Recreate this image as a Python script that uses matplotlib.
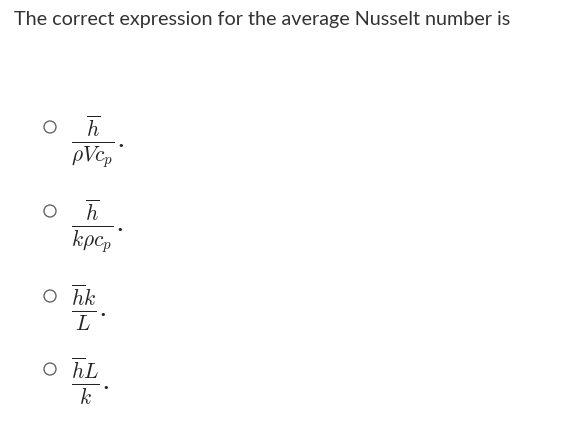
import matplotlib.pyplot as plt
from matplotlib.patches import Circle

W, H = 586, 446
QUESTION = "The correct expression for the average Nusselt number is"
OPTIONS = [
    r"$\frac{\overline{h}}{\rho V c_p}.$",
    r"$\frac{\overline{h}}{k \rho c_p}.$",
    r"$\frac{\overline{h} k}{L}.$",
    r"$\frac{\overline{h} L}{k}.$",
]
CIRCLE_Y = [127, 211, 296, 369]
FRAC_Y = [142, 226, 308, 381]
FRAC_X = [71, 71, 71, 71]

plt.rcParams["mathtext.fontset"] = "cm"
fig = plt.figure(figsize=(W / 100, H / 100), dpi=100)
ax = fig.add_axes([0, 0, 1, 1])
ax.set_xlim(0, W)
ax.set_ylim(H, 0)
ax.axis("off")

ax.text(14, 20, QUESTION, family="Lato", fontsize=14.2, color="#333333",
        va="center", ha="left")

for label, cy, fy, fx in zip(OPTIONS, CIRCLE_Y, FRAC_Y, FRAC_X):
    ax.add_patch(Circle((50, cy), 6, fill=False, ec="#666666", lw=1))
    ax.text(fx, fy, label, fontsize=22, color="#222222", va="center", ha="left")

fig.savefig("out.png", dpi=100)
